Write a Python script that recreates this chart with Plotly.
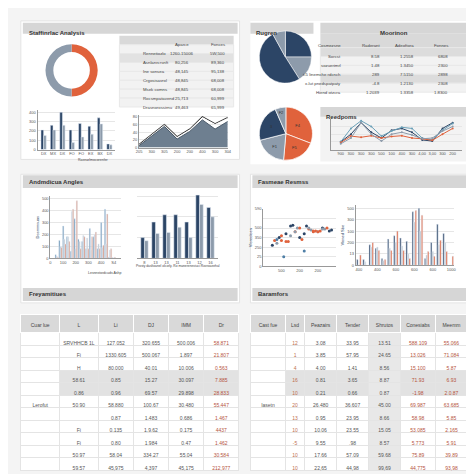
import plotly.graph_objects as go

W = H = 474
NAVY = "#2c4566"; GRAY = "#8d9bab"; ORANGE = "#e0623c"; BLUE = "#4f7fa6"; LGRAY = "#b8c0c8"

def X(px): return px / W
def Y(py): return 1 - py / H

# ---------------- data ----------------
donut_labels = ["A", "B"]
donut_vals = [50, 50]

t1_head = ["", "Aparce", "Fonces"]
t1_c0 = ["Rennetiozlo", "Asnlanrcrsnft", "Ine sonsea", "Crgosisavrol", "Msek comns", "Rocsmpatavend", "Drasnorossirnu"]
t1_c1 = ["1260-15006", "80,256", "48,145", "48,845", "48,845", "25,713", "49,463"]
t1_c2 = ["5W,500", "89,360", "95,138", "68,008", "68,008", "60,999", "65,999"]

bar1_cats = ["DX", "MX", "DX", "FO", "FO", "EX", "BX", "DX"]
bar1_a = [42, 52, 80, 42, 56, 50, 68, 12]
bar1_b = [30, 42, 52, 15, 27, 33, 55, 10]

area_x = ["205", "300", "305", "200", "200", "400", "300", "304"]
area_lo = [5, 30, 55, 22, 42, 72, 48, 68]
area_hi = [8, 35, 60, 28, 48, 80, 62, 78]

pie1_vals = [25, 16, 51, 8]
pie1_cols = [NAVY, GRAY, NAVY, GRAY]

t2_head = ["Cosmezsne", "Raderant", "Adeoftora", "Fonnes"]
t2_c0 = ["Sorcst", "sozuerimrl", "t-5 linemche rdcnch", "x-lut pnedspatpaty", "Hiend otzcra"]
t2_c1 = ["8.58", "1.48", "289", "-4.8", "1.2039"]
t2_c2 = ["1.2558", "1.3450", "7.5150", "1.2130", "1.3358"]
t2_c3 = ["6808", "2300", "2898", "2308", "1.8300"]

pie2_labels = ["F4", "F5", "F1", "", "F2"]
pie2_vals = [33, 22, 21, 24, 7]
pie2_cols = [ORANGE, ORANGE, GRAY, NAVY, GRAY]

line_x = ["900", "300", "300", "300", "500", "100", "400", "300", "4,00", "3,00", "300", "200"]
line_s1 = [20, 40, 70, 45, 30, 50, 55, 45, 25, 22, 55, 70]
line_s2 = [20, 55, 75, 60, 35, 48, 58, 55, 30, 25, 50, 68]
line_s3 = [18, 35, 32, 36, 30, 34, 36, 30, 28, 24, 40, 55]
line_s4 = [15, 30, 70, 40, 22, 40, 45, 38, 28, 30, 48, 60]

hist_x = [5, 8, 11, 14, 17, 20, 23, 26, 29, 32, 35, 38, 41, 44, 47, 50]
hist_a = [30, 150, 270, 180, 60, 330, 160, 140, 80, 250, 180, 80, 300, 410, 10, 5]
hist_b = [20, 100, 160, 180, 390, 80, 140, 190, 170, 70, 200, 120, 90, 120, 70, 0]
hist_c = [10, 90, 120, 140, 410, 480, 80, 180, 80, 180, 220, 80, 110, 370, 80, 10]

bar2_cats = ["8", "13", "13", "11", "13", "12", "16"]
bar2_a = [200, 350, 420, 420, 350, 610, 490]
bar2_b = [170, 240, 250, 300, 200, 520, 400]

sc_x = [120, 125, 130, 135, 140, 145, 150, 155, 160, 165, 170, 175, 180, 185, 190, 195, 200, 205, 210, 215, 220, 225, 230, 235, 240, 245, 130, 150, 170, 190, 210, 230, 250, 140, 160, 180, 200, 220]
sc_y = [420, 470, 440, 500, 470, 300, 540, 460, 520, 630, 560, 600, 500, 480, 360, 620, 590, 580, 560, 570, 560, 570, 600, 590, 600, 570, 480, 460, 560, 540, 570, 590, 580, 520, 620, 600, 600, 560]
sc_c = ["n", "o", "g", "n", "o", "b", "n", "o", "g", "n", "o", "g", "n", "o", "b", "n", "o", "g", "o", "o", "g", "o", "n", "g", "o", "n", "b", "o", "g", "n", "o", "g", "n", "o", "n", "o", "g", "o"]

bar3_x = ["420", "440", "460", "480", "500", "520", "540", "560", "580", "600", "620", "640", "660", "680", "700", "720"]
bar3_a = [50, 50, 180, 150, 60, 230, 260, 240, 210, 470, 500, 60, 200, 360, 280, 0]
bar3_b = [0, 30, 160, 160, 40, 150, 200, 170, 100, 380, 300, 90, 120, 180, 200, 0]
bar3_c = [90, 0, 200, 130, 50, 130, 300, 130, 60, 480, 440, 120, 80, 220, 120, 80]

tb1_head = ["Cuar lue", "L", "Li", "DJ", "IMM", "Dr"]
tb1_c0 = ["", "", "", "", "", "Lerofut", "", "", "", "", ""]
tb1_c1 = ["SRVHHCB 1L", "Fi", "H", "58,61", "0.86", "50,90", "", "Fi", "Fi", "50,97", "59.57"]
tb1_c2 = ["127,052", "1330,605", "80,000", "0.85", "0.96", "58,880", "0.87", "0.135", "0,80", "58,04", "45,975"]
tb1_c3 = ["320,655", "500,067", "40,01", "15,27", "69.57", "100.67", "1.483", "1.9.62", "1,984", "334,27", "4,397"]
tb1_c4 = ["500,006", "1,897", "10,006", "30,097", "29,898", "30,480", "0,686", "0,175", "0,47", "55,04", "45,175"]
tb1_c5 = ["58,871", "21,807", "0,563", "7,885", "28,833", "55,447", "1,467", "4437", "1,462", "30,584", "212,977"]

tb2_head = ["Cast fue", "Lsd", "Peazairs", "Tender", "Shrutos", "Conesiabs", "Meemm"]
tb2_c0 = ["", "", "", "", "", "Iasetn", "", "", "", "", ""]
tb2_c1 = ["12", "1", "4", "16", "10", "20", "13", "10", "-5", "10", "10"]
tb2_c2 = ["3.08", "3,85", "4,00", "0.81", "0.21", "26,480", "0,95", "10,06", "9,55", "17,66", "22,65"]
tb2_c3 = ["33,95", "57,95", "1.41", "3,65", "0,66", "36,607", "23,95", "23,55", ",98", "57,09", "44,98"]
tb2_c4 = ["13,51", "24,65", "8,56", "8,87", "0,87", "45,00", "8,66", "15,05", "8,57", "59,68", "99,69"]
tb2_c5 = ["588,109", "13,026", "15,100", "71,93", "-1,98", "69,987", "58,98", "53,085", "5,773", "75,89", "44,775"]
tb2_c6 = ["55,066", "71,084", "5,87", "6,93", "2,0,87", "63,685", "5,85", "2,165", "5,91", "39,89", "93,98"]

# ---------------- figure ----------------
fig = go.Figure()
shapes = []; annos = []
nb = lambda col: [s.replace(" ", "\u00a0") for s in col]

def rect(x0, y0, x1, y1, fill, line=None, layer="below"):
    shapes.append(dict(type="rect", xref="paper", yref="paper", x0=X(x0), x1=X(x1), y0=Y(y1), y1=Y(y0),
                       fillcolor=fill, line=dict(width=1 if line else 0, color=line or fill), layer=layer))

def header(x0, y0, x1, y1, text, center=False):
    rect(x0, y0, x1, y1, "#d6d6d6")
    annos.append(dict(xref="paper", yref="paper", x=X((x0 + x1) / 2) if center else X(x0 + 4), y=Y((y0 + y1) / 2),
                      text="<b>%s</b>" % text, showarrow=False, xanchor="center" if center else "left",
                      font=dict(size=6, color="#333")))

def txt(x, y, t, size=4, angle=0, color="#444"):
    annos.append(dict(xref="paper", yref="paper", x=X(x), y=Y(y), text=t, showarrow=False, textangle=angle,
                      font=dict(size=size, color=color)))

# panels
rect(10, 10, 232, 150, "white", "#e4e4e4")
rect(243, 10, 466, 155, "white")
rect(10, 165, 232, 295, "white", "#e4e4e4")
rect(243, 165, 466, 295, "white", "#e4e4e4")
rect(314, 107, 463, 152, "#f3f3f3")
header(12, 12, 230, 23, "Staffinrlac Analysis")
header(243, 12, 307, 23, "Rugren")
header(314, 12, 463, 23, "Moorinon", center=True)
header(314, 97, 463, 107, "Reedpoms")
header(12, 166, 230, 179, "Andmdicua Angles")
header(12, 280, 230, 293, "Freyamitiues")
header(245, 166, 463, 179, "Fasmeae Resmss")
header(245, 280, 463, 293, "Baramfors")

# donut
fig.add_trace(go.Pie(values=donut_vals, labels=donut_labels, hole=0.7, sort=False, direction="clockwise",
                     marker=dict(colors=[ORANGE, GRAY]), textinfo="none", showlegend=False,
                     domain=dict(x=[X(35), X(88)], y=[Y(87), Y(33)])))

# small tables drawn as grid of shapes + annotations
def grid_table(x0, y0, x1, head, cols, hh, rh, widths, fills, fs=4.3):
    tot = sum(widths); xs = [x0]
    for w in widths: xs.append(xs[-1] + (x1 - x0) * w / tot)
    rect(x0, y0, x1, y0 + hh, "#d9d9d9")
    for j, h in enumerate(head):
        txt((xs[j] + xs[j + 1]) / 2, y0 + hh / 2, h, fs)
    n = len(cols[0])
    for i in range(n):
        ya = y0 + hh + i * rh
        rect(x0, ya, x1, ya + rh, fills[i], "#e8e8e8")
        for j, c in enumerate(cols):
            txt((xs[j] + xs[j + 1]) / 2, ya + rh / 2, c[i], fs)

grid_table(110, 25, 226, t1_head, [t1_c0, t1_c1, t1_c2], 9, 9, [1.1, 1, 0.8],
           ["#e2e2e2" if i == 1 else "#f2f2f2" for i in range(7)])
grid_table(314, 23, 463, t2_head, [t2_c0, t2_c1, t2_c2, t2_c3], 14, 9, [1.3, 1, 1, 1],
           ["#dcdcdc" if i in (0, 3) else "#f2f2f2" for i in range(5)])

def table(x0, y0, x1, y1, head, cols, hfill="#d9d9d9", cfill=None, fcolors=None, cw=None, hh=10, ch=10, fs=4.5):
    fig.add_trace(go.Table(domain=dict(x=[X(x0), X(x1)], y=[Y(y1), Y(y0)]), columnwidth=cw,
                           header=dict(values=nb(head), fill_color=hfill, line_color="white", height=hh,
                                       font=dict(size=fs, color="#444"), align="center"),
                           cells=dict(values=[nb(c) for c in cols], fill_color=cfill, line_color="#e4e4e4", height=ch,
                                      font=dict(size=fs, color=fcolors or "#555"), align="center")))

# pies
fig.add_trace(go.Pie(values=pie1_vals, sort=False, direction="clockwise", marker=dict(colors=pie1_cols, line=dict(color="white", width=0.5)),
                     textinfo="none", showlegend=False, domain=dict(x=[X(252), X(305)], y=[Y(73), Y(20)])))
fig.add_trace(go.Pie(values=pie2_vals, labels=pie2_labels, sort=False, direction="clockwise",
                     marker=dict(colors=pie2_cols, line=dict(color="white", width=0.7)),
                     textinfo="label", textfont=dict(size=4, color="#333"), showlegend=False,
                     domain=dict(x=[X(252), X(306)], y=[Y(151), Y(97)])))

ax = dict(showline=True, linecolor="#999", tickfont=dict(size=4, color="#555"), ticks="", showgrid=False, zeroline=False, tickangle=0)
ay = dict(showline=True, linecolor="#999", tickfont=dict(size=4, color="#555"), gridcolor="#e6e6e6", zeroline=False)

def axes(n, x0, y0, x1, y1, xextra=None, yextra=None):
    k = "" if n == 1 else str(n)
    fig.layout["xaxis" + k] = {**ax, "domain": [X(x0), X(x1)], "anchor": "y" + k, **(xextra or {})}
    fig.layout["yaxis" + k] = {**ay, "domain": [Y(y1), Y(y0)], "anchor": "x" + k, **(yextra or {})}
    return "x" + k, "y" + k

# bar1
xa, ya = axes(1, 27, 100, 106, 140, dict(tickvals=list(range(8)), ticktext=bar1_cats), dict(range=[0, 85], tickvals=[0, 20, 40, 60, 80], ticktext=["0", "100", "200", "300", "400"]))
fig.add_trace(go.Bar(x=[i - 0.15 for i in range(8)], y=bar1_a, marker_color=NAVY, xaxis=xa, yaxis=ya, showlegend=False, width=0.28))
fig.add_trace(go.Bar(x=[i + 0.13 for i in range(8)], y=bar1_b, marker_color=GRAY, xaxis=xa, yaxis=ya, showlegend=False, width=0.28))
txt(66, 147, "Rasnarlmocorenfer", 3.5)

# area
xa, ya = axes(2, 130, 105, 220, 138, dict(tickvals=list(range(8)), ticktext=area_x, range=[0, 7]), dict(range=[0, 85], tickvals=[0, 20, 40, 60, 80]))
fig.add_trace(go.Scatter(x=list(range(8)), y=area_hi, mode="lines", line=dict(color="#333", width=1.2), xaxis=xa, yaxis=ya, showlegend=False))
fig.add_trace(go.Scatter(x=list(range(8)), y=[v - 2 for v in area_hi], mode="lines", line=dict(color="white", width=1), xaxis=xa, yaxis=ya, showlegend=False))
fig.add_trace(go.Scatter(x=list(range(8)), y=area_lo, mode="lines", fill="tozeroy", fillcolor="#6e7f90", line=dict(color="#4a5a6a", width=1), xaxis=xa, yaxis=ya, showlegend=False))

# line chart
xa, ya = axes(3, 325, 109, 458, 140, dict(tickvals=list(range(12)), ticktext=line_x), dict(range=[0, 80], showticklabels=False))
for s, c in zip([line_s1, line_s2, line_s3, line_s4], [NAVY, "#6aa0b8", ORANGE, GRAY]):
    fig.add_trace(go.Scatter(x=list(range(12)), y=s, mode="lines+markers", marker=dict(size=2), line=dict(color=c, width=1), xaxis=xa, yaxis=ya, showlegend=False))

# histogram
xa, ya = axes(4, 40, 187, 112, 250, dict(range=[0, 56], tickvals=[0, 10, 20, 30, 40, 50], ticktext=["0", "100", "200", "300", "400", "S4"]),
              dict(range=[0, 520], tickvals=[0, 100, 200, 300, 400, 500], title=dict(text="Dosmmnuas", font=dict(size=4), standoff=2)))
for s, c, off in zip([hist_a, hist_b, hist_c], [BLUE, LGRAY, "#d2846a"], [-0.9, 0, 0.9]):
    fig.add_trace(go.Bar(x=[v + off for v in hist_x], y=s, marker_color=c, width=0.9, xaxis=xa, yaxis=ya, showlegend=False))
txt(76, 265, "Lesnnstordcuds Ashp", 3.5)

# bar2
xa, ya = axes(5, 128, 185, 210, 250, dict(tickvals=list(range(7)), ticktext=bar2_cats), dict(range=[0, 620], showticklabels=False, showline=False))
fig.add_trace(go.Bar(x=[i - 0.17 for i in range(7)], y=bar2_a, width=0.33, marker_color=NAVY, xaxis=xa, yaxis=ya, showlegend=False))
fig.add_trace(go.Bar(x=[i + 0.17 for i in range(7)], y=bar2_b, width=0.33, marker_color=GRAY, xaxis=xa, yaxis=ya, showlegend=False))
txt(170, 258, "Prosty dasltoanel olcorly. Ro manereneviuci Rovroaeehal", 3.3)

# scatter
cmap = {"n": NAVY, "o": ORANGE, "g": GRAY, "b": BLUE}
xa, ya = axes(6, 256, 200, 330, 258, dict(range=[100, 260], tickvals=[140, 180, 220], ticktext=["500", "200", "200"]),
              dict(range=[200, 800], tickvals=[200, 300, 400, 500, 600, 700, 800], ticktext=["0", "25", "250", "350", "500", "", "590"], title=dict(text="Vloreoloen", font=dict(size=4), standoff=2)))
fig.add_trace(go.Scatter(x=sc_x, y=sc_y, mode="markers", marker=dict(size=3, color=[cmap[c] for c in sc_c]), xaxis=xa, yaxis=ya, showlegend=False))

# bar3
xa, ya = axes(7, 350, 196, 450, 257, dict(range=[410, 730], tickvals=[420, 480, 540, 600, 660, 720], ticktext=["400", "400", "600", "600", "600", "1000"]),
              dict(range=[0, 530], tickvals=[0, 100, 200, 300, 400, 500], ticktext=["0", "13", "200", "100", "300", "500"], title=dict(text="Vloned Sbe", font=dict(size=4), standoff=2)))
for s, c, off in zip([bar3_a, bar3_b, bar3_c], [NAVY, LGRAY, ORANGE], [-5, 0, 5]):
    fig.add_trace(go.Bar(x=[int(v) + off for v in bar3_x], y=s, width=4.5, marker_color=c, xaxis=xa, yaxis=ya, showlegend=False))

# bottom tables
red = "#b5533c"
hl = ["#e2e2e2" if i in (3, 4) else "white" for i in range(11)]
table(10, 307, 232, 466, tb1_head, [tb1_c0, tb1_c1, tb1_c2, tb1_c3, tb1_c4, tb1_c5],
      cfill=[["white"] * 11] + [hl] * 5,
      fcolors=["#555"] * 5 + [red], cw=[1.1, 1.1, 1, 1, 1, 1], hh=18, ch=12.5, fs=5)
table(243, 307, 464, 466, tb2_head, [tb2_c0, tb2_c1, tb2_c2, tb2_c3, tb2_c4, tb2_c5, tb2_c6],
      cfill=[["white"] * 11] + [hl] * 3 + [["#e8e8e8"] * 11] + [hl] * 2,
      fcolors=["#555", "#c0704e", "#555", "#555", "#555", red, red], cw=[1.1, 0.6, 1, 1, 1, 1.1, 1], hh=18, ch=12.5, fs=5)

fig.update_layout(width=W, height=H, margin=dict(l=0, r=0, t=0, b=0), paper_bgcolor="#f4f4f4", plot_bgcolor="white",
                  shapes=shapes, annotations=annos, barmode="overlay", font=dict(family="Liberation Sans"))
fig.write_html("out.html")
